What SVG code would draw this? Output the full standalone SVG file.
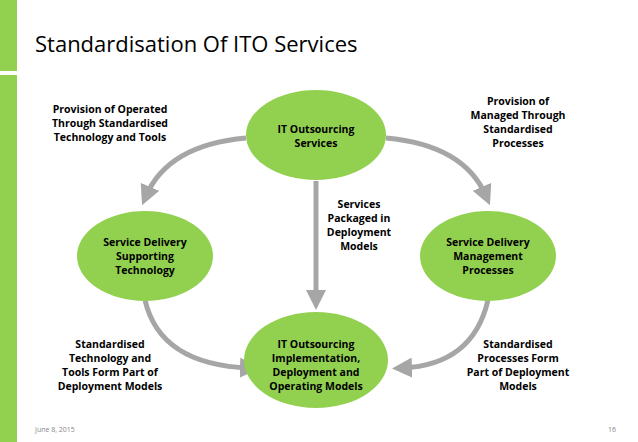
<svg xmlns="http://www.w3.org/2000/svg" width="638" height="442" viewBox="0 0 638 442">
<style>
.n{fill:#92d050}
.t{font-family:"Open Sans",sans-serif;font-weight:bold;font-size:10.5px;fill:#000;text-anchor:middle}
.c{fill:none;stroke:#a6a6a6;stroke-width:5}
</style>
<defs><marker id="a" markerWidth="4" markerHeight="4" refX="2" refY="2" orient="auto" markerUnits="strokeWidth"><path d="M0,0L4,2L0,4z" fill="#a6a6a6"/></marker></defs>
<rect width="638" height="442" fill="#fff"/>
<rect x="0" y="0" width="17" height="71" fill="#92d050"/>
<rect x="0" y="75" width="17" height="367" fill="#92d050"/>
<text x="35" y="52" style="font-family:'Open Sans',sans-serif;font-size:22px;fill:#000">Standardisation Of ITO Services</text>
<g id="connectors">
<path class="c" d="M246,138 Q168,145 146,196" marker-end="url(#a)"/>
<path class="c" d="M386,138 Q464,145 486,196" marker-end="url(#a)"/>
<path class="c" d="M145,300 Q160,365 250,368" marker-end="url(#a)"/>
<path class="c" d="M488,300 Q473,365 402,368" marker-end="url(#a)"/>
<path class="c" d="M316,181 L316,300" marker-end="url(#a)"/>
</g>
<g id="n1"><ellipse class="n" cx="316" cy="135" rx="70" ry="45"/><text class="t" x="316" y="133">IT Outsourcing</text><text class="t" x="316" y="147">Services</text></g>
<g id="n2"><ellipse class="n" cx="145" cy="256" rx="68" ry="45"/><text class="t" x="145" y="246">Service Delivery</text><text class="t" x="145" y="260">Supporting</text><text class="t" x="145" y="274">Technology</text></g>
<g id="n3"><ellipse class="n" cx="488" cy="256" rx="68" ry="45"/><text class="t" x="488" y="246">Service Delivery</text><text class="t" x="488" y="260">Management</text><text class="t" x="488" y="274">Processes</text></g>
<g id="n4"><ellipse class="n" cx="316" cy="360" rx="72" ry="48"/><text class="t" x="316" y="348">IT Outsourcing</text><text class="t" x="316" y="362">Implementation,</text><text class="t" x="316" y="376">Deployment and</text><text class="t" x="316" y="390">Operating Models</text></g>
<g id="labels">
<text class="t" x="110" y="113">Provision of Operated</text><text class="t" x="110" y="127">Through Standardised</text><text class="t" x="110" y="141">Technology and Tools</text>
<text class="t" x="518" y="105">Provision of</text><text class="t" x="518" y="119">Managed Through</text><text class="t" x="518" y="133">Standardised</text><text class="t" x="518" y="147">Processes</text>
<text class="t" x="359" y="208">Services</text><text class="t" x="359" y="222">Packaged in</text><text class="t" x="359" y="236">Deployment</text><text class="t" x="359" y="250">Models</text>
<text class="t" x="110" y="348">Standardised</text><text class="t" x="110" y="362">Technology and</text><text class="t" x="110" y="376">Tools Form Part of</text><text class="t" x="110" y="390">Deployment Models</text>
<text class="t" x="518" y="348">Standardised</text><text class="t" x="518" y="362">Processes Form</text><text class="t" x="518" y="376">Part of Deployment</text><text class="t" x="518" y="390">Models</text>
</g>
<text x="35" y="432" style="font-family:'Open Sans',sans-serif;font-size:7px;fill:#888">June 8, 2015</text>
<text x="608" y="432" style="font-family:'Open Sans',sans-serif;font-size:7px;fill:#888">16</text>
</svg>
